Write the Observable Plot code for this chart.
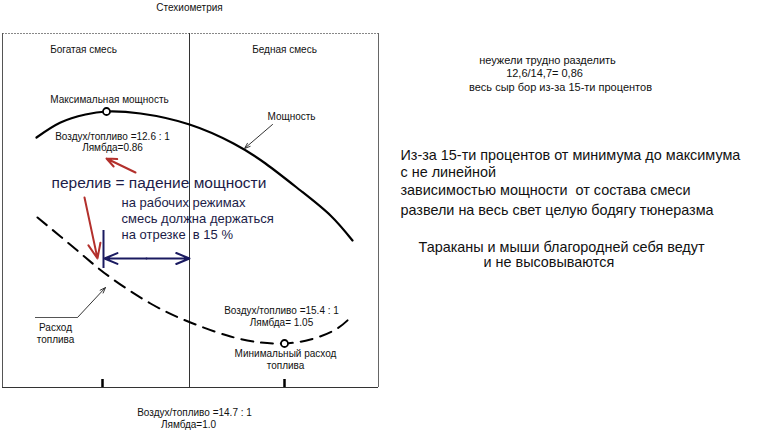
<!DOCTYPE html>
<html>
<head>
<meta charset="utf-8">
<script src="https://cdn.jsdelivr.net/npm/d3@7"></script>
<script src="https://cdn.jsdelivr.net/npm/@observablehq/plot@0.6"></script>
<style>
  html, body { margin: 0; padding: 0; background: #fff; }
</style>
</head>
<body>
<div id="chart"></div>
<script>
// Diagram units (schematic, not to scale)
const powerCurve = [
  {x: 36, y: 137}, {x: 60, y: 122}, {x: 85, y: 114}, {x: 106, y: 111},
  {x: 140, y: 113}, {x: 189, y: 124}, {x: 233, y: 143}, {x: 265, y: 163},
  {x: 300, y: 190}, {x: 330, y: 215}, {x: 352, y: 240}
];
const fuelCurve = [
  {x: 37, y: 217}, {x: 60, y: 236}, {x: 85, y: 257}, {x: 110, y: 277},
  {x: 150, y: 303}, {x: 190, y: 322}, {x: 230, y: 336}, {x: 260, y: 342},
  {x: 284, y: 343}, {x: 310, y: 339}, {x: 335, y: 329}, {x: 350, y: 317}
];
const keyPoints = [{x: 106, y: 111}, {x: 284, y: 343}];
const frameBox = [{x1: 2, x2: 378, y1: 33, y2: 387}];
const stoichX = [189];
const tickMarks = [{x: 102}, {x: 284}];

const diagramLabels = [
  {x: 189, y: 7, text: "Стехиометрия"},
  {x: 83, y: 49, text: "Богатая смесь"},
  {x: 284, y: 49, text: "Бедная смесь"},
  {x: 109, y: 99, text: "Максимальная мощность"},
  {x: 291, y: 116, text: "Мощность"},
  {x: 112, y: 136, text: "Воздух/топливо =12.6 : 1"},
  {x: 112, y: 147, text: "Лямбда=0.86"},
  {x: 55, y: 327, text: "Расход"},
  {x: 55, y: 339, text: "топлива"},
  {x: 281, y: 310, text: "Воздух/топливо =15.4 : 1"},
  {x: 281, y: 322, text: "Лямбда= 1.05"},
  {x: 285, y: 353, text: "Минимальный расход"},
  {x: 285, y: 365, text: "топлива"},
  {x: 194, y: 412, text: "Воздух/топливо =14.7 : 1"},
  {x: 188, y: 424, text: "Лямбда=1.0"}
];
const noteSmall = [
  {x: 547, y: 60, text: "неужели трудно разделить"},
  {x: 544, y: 73, text: "12,6/14,7= 0,86"},
  {x: 560, y: 87, text: "весь сыр бор из-за 15-ти процентов"}
];
const noteBig = [
  {x: 400, y: 155, text: "Из-за 15-ти процентов от минимума до максимума"},
  {x: 400, y: 172, text: "с не линейной"},
  {x: 400, y: 190, text: "зависимостью мощности  от состава смеси"},
  {x: 400, y: 210, text: "развели на весь свет целую бодягу тюнеразма"},
  {x: 418, y: 247, text: "Тараканы и мыши благородней себя ведут"},
  {x: 483, y: 262, text: "и не высовываются"}
];
const headline = [{x: 51, y: 183, text: "перелив = падение мощности"}];
const rangeNote = [
  {x: 121, y: 202, text: "на рабочих режимах"},
  {x: 121, y: 218, text: "смесь должна держаться"},
  {x: 121, y: 234, text: "на отрезке  в 15 %"}
];
const redArrows = [
  {x1: 135, y1: 172, x2: 106, y2: 158},
  {x1: 84, y1: 197, x2: 97, y2: 258}
];
const grayCallouts = [
  {x1: 272, y1: 124, x2: 244, y2: 148},
  {x1: 77, y1: 317, x2: 105, y2: 287}
];
const grayLeader = [{x1: 35, x2: 77, y: 317}];
const rangeBar = [{x: 103, y1: 230, y2: 268}];
const rangeSpan = [
  {x1: 146, x2: 104, y: 258},
  {x1: 146, x2: 189, y: 258}
];

const font = "Liberation Sans, Arial, Helvetica, sans-serif";
const navy = "#1c1c48";

const chart = Plot.plot({
  width: 763,
  height: 435,
  margin: 0,
  x: {domain: [0, 763], range: [0, 763], axis: null},
  y: {domain: [0, 435], range: [0, 435], axis: null},
  style: {background: "#fff", fontFamily: font},
  marks: [
    // frame
    Plot.ruleY(frameBox, {y: "y1", x1: "x1", x2: "x2", stroke: "#888", strokeWidth: 1.2, strokeDasharray: "2,1"}),
    Plot.ruleY(frameBox, {y: "y2", x1: "x1", x2: "x2", stroke: "#333", strokeWidth: 1}),
    Plot.ruleX(frameBox, {x: "x1", y1: "y1", y2: "y2", stroke: "#555", strokeWidth: 1}),
    Plot.ruleX(frameBox, {x: "x2", y1: "y1", y2: "y2", stroke: "#666", strokeWidth: 1}),
    Plot.ruleX(stoichX, {y1: 33, y2: 387, stroke: "#333", strokeWidth: 1}),
    Plot.ruleX(tickMarks, {x: "x", y1: 379, y2: 387, stroke: "#000", strokeWidth: 2.5}),
    // curves
    Plot.line(powerCurve, {x: "x", y: "y", curve: "natural", stroke: "#000", strokeWidth: 2.2}),
    Plot.line(fuelCurve, {x: "x", y: "y", curve: "natural", stroke: "#000", strokeWidth: 2, strokeDasharray: "12,8"}),
    Plot.dot(keyPoints, {x: "x", y: "y", r: 3.5, fill: "#fff", stroke: "#000", strokeWidth: 1.8}),
    // callouts
    Plot.ruleY(grayLeader, {y: "y", x1: "x1", x2: "x2", stroke: "#555", strokeWidth: 1}),
    Plot.arrow(grayCallouts, {x1: "x1", y1: "y1", x2: "x2", y2: "y2", stroke: "#333", strokeWidth: 1, headLength: 9, headAngle: 40}),
    Plot.arrow(redArrows, {x1: "x1", y1: "y1", x2: "x2", y2: "y2", stroke: "#b3302c", strokeWidth: 2, headLength: 12, headAngle: 45}),
    Plot.ruleX(rangeBar, {x: "x", y1: "y1", y2: "y2", stroke: "#1a1a60", strokeWidth: 2}),
    Plot.arrow(rangeSpan, {x1: "x1", y1: "y", x2: "x2", y2: "y", stroke: "#1a1a60", strokeWidth: 2, headLength: 12, headAngle: 45}),
    // labels
    Plot.text(diagramLabels, {x: "x", y: "y", text: "text", fontSize: 10, fill: "#111", fontFamily: font}),
    Plot.text(noteSmall, {x: "x", y: "y", text: "text", fontSize: 11, fill: "#111", fontFamily: font}),
    Plot.text(noteBig, {x: "x", y: "y", text: "text", fontSize: 14.4, fill: "#111", textAnchor: "start", fontFamily: font}),
    Plot.text(headline, {x: "x", y: "y", text: "text", fontSize: 15.5, fill: navy, textAnchor: "start", fontFamily: font}),
    Plot.text(rangeNote, {x: "x", y: "y", text: "text", fontSize: 13, fill: navy, textAnchor: "start", fontFamily: font})
  ]
});
document.getElementById("chart").appendChild(chart);
</script>
</body>
</html>
